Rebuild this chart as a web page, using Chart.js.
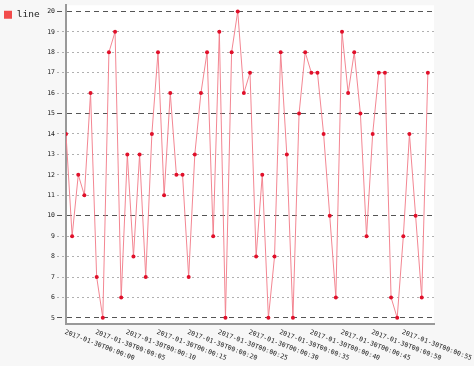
<!DOCTYPE html>
<html>
<head>
<meta charset="utf-8">
<script src="https://cdn.jsdelivr.net/npm/chart.js@4/dist/chart.umd.min.js"></script>
<style>
  html, body { margin: 0; padding: 0; background: #f7f7f7; }
  #wrap { width: 474px; height: 366px; }
</style>
</head>
<body>
<div id="wrap"><canvas id="c" width="474" height="366"></canvas></div>
<script>
const seriesName = "line";
const seconds = [0,1,2,3,4,5,6,7,8,9,10,11,12,13,14,15,16,17,18,19,20,21,22,23,24,25,26,27,28,29,30,31,32,33,34,35,36,37,38,39,40,41,42,43,44,45,46,47,48,49,50,51,52,53,54,55,56,57,58,59];
const values = [14,9,12,11,16,7,5,18,19,6,13,8,13,7,14,18,11,16,12,12,7,13,16,18,9,19,5,18,20,16,17,8,12,5,8,18,13,5,15,18,17,17,14,10,6,19,16,18,15,9,14,17,17,6,5,9,14,10,6,17];
const tickSeconds = [0,5,10,15,20,25,30,35,40,45,50,55];
const tickLabels = ["2017-01-30T00:00:00","2017-01-30T00:00:05","2017-01-30T00:00:10","2017-01-30T00:00:15","2017-01-30T00:00:20","2017-01-30T00:00:25","2017-01-30T00:00:30","2017-01-30T00:00:35","2017-01-30T00:00:40","2017-01-30T00:00:45","2017-01-30T00:00:50","2017-01-30T00:00:55"];
const yTicks = [5,6,7,8,9,10,11,12,13,14,15,16,17,18,19,20];

const MONO = "'DejaVu Sans Mono', monospace";
const isMajor = v => v % 5 === 0;

const bgPlugin = {
  id: 'bg',
  beforeDraw(chart) {
    const {ctx, chartArea: a} = chart;
    ctx.save();
    ctx.fillStyle = '#f7f7f7';
    ctx.fillRect(0, 0, chart.width, chart.height);
    ctx.fillStyle = '#ffffff';
    ctx.fillRect(a.left, a.top, a.right - a.left, a.bottom - a.top);
    ctx.restore();
  }
};

const xLabelPlugin = {
  id: 'xlabels',
  afterDraw(chart) {
    const {ctx} = chart;
    const xs = chart.scales.x;
    ctx.save();
    ctx.font = "6.5px " + MONO;
    ctx.fillStyle = '#222';
    ctx.textAlign = 'left';
    ctx.textBaseline = 'top';
    xs.ticks.forEach((t, i) => {
      const px = xs.getPixelForValue(t.value);
      ctx.save();
      ctx.translate(px, xs.top + 5);
      ctx.rotate(21 * Math.PI / 180);
      ctx.fillText(tickLabels[i], 0, 0);
      ctx.restore();
    });
    ctx.restore();
  }
};

new Chart(document.getElementById('c'), {
  type: 'line',
  data: {
    datasets: [{
      label: seriesName,
      data: seconds.map((s, i) => ({x: s, y: values[i]})),
      borderColor: 'rgba(242,128,140,0.95)',
      borderWidth: 1,
      backgroundColor: '#f24b4b',
      pointRadius: 2,
      pointHoverRadius: 2,
      pointBackgroundColor: '#e0102a',
      pointBorderWidth: 0,
      tension: 0,
      fill: false
    }]
  },
  options: {
    responsive: false,
    animation: false,
    events: [],
    layout: { padding: { top: 0, right: 40, bottom: 0, left: 0 } },
    plugins: {
      tooltip: { enabled: false },
      legend: {
        position: 'left',
        align: 'start',
        maxWidth: 42,
        title: { display: true, text: '', font: { size: 1, lineHeight: 1 }, padding: { top: 0, bottom: 5 } },
        labels: {
          boxWidth: 8,
          boxHeight: 8,
          padding: 4,
          color: '#222',
          font: { family: MONO, size: 9.5 },
          generateLabels: () => [{ text: seriesName, fillStyle: '#f24b4b', strokeStyle: '#f24b4b', fontColor: '#222', lineWidth: 0, datasetIndex: 0, hidden: false }]
        }
      }
    },
    scales: {
      x: {
        type: 'linear',
        min: 0,
        max: 60,
        afterBuildTicks: s => { s.ticks = tickSeconds.map(v => ({value: v})); },
        afterFit: s => { s.height = 42; },
        ticks: { display: false },
        grid: { display: false },
        border: { display: true, color: '#999', width: 2 }
      },
      y: {
        min: 4.7,
        max: 20.3,
        afterBuildTicks: s => { s.ticks = yTicks.map(v => ({value: v})); },
        afterFit: s => { s.width = 24; },
        ticks: {
          color: '#222',
          font: { family: MONO, size: 6.5, lineHeight: 1 },
          padding: 2,
          autoSkip: false
        },
        grid: {
          color: c => isMajor(c.tick.value) ? '#555' : '#b0b0b0',
          tickColor: c => isMajor(c.tick.value) ? '#555' : '#b0b0b0',
          lineWidth: 1,
          tickLength: 9,
          tickBorderDash: c => isMajor(c.tick.value) ? [5, 4] : [2, 3],
          borderDash: c => isMajor(c.tick.value) ? [5, 4] : [2, 3]
        },
        border: {
          display: true,
          color: '#999',
          width: 2,
          dash: c => (c.tick && isMajor(c.tick.value)) ? [5, 4] : [2, 3]
        }
      }
    }
  },
  plugins: [bgPlugin, xLabelPlugin]
});
</script>
</body>
</html>
